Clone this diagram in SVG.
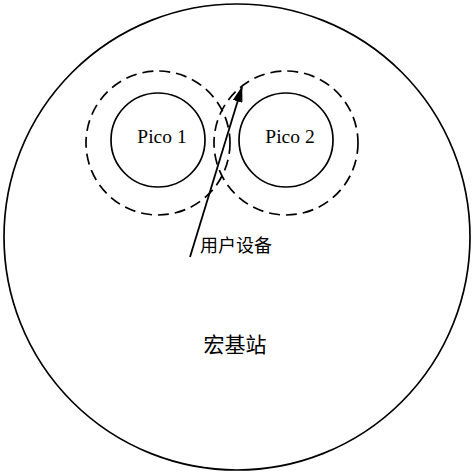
<svg xmlns="http://www.w3.org/2000/svg" width="474" height="474" viewBox="0 0 474 474">
<defs>
<style>
.solid{fill:none;stroke:#000;stroke-width:1.7}
.dash{fill:none;stroke:#000;stroke-width:1.7;stroke-dasharray:11 6}
.lat{font-family:"Liberation Serif","Times New Roman",serif;font-size:19.5px;fill:#000;text-anchor:middle}
.cjk{font-family:"Liberation Serif","Noto Sans CJK SC",serif;fill:#000;text-anchor:middle}
</style>
<marker id="arr" markerWidth="16" markerHeight="10" refX="15" refY="5" orient="auto" markerUnits="userSpaceOnUse" viewBox="0 0 16 10">
<path d="M0,0 L16,5 L0,10 Z" fill="#000"/>
</marker>
</defs>
<rect width="474" height="474" fill="#fff"/>
<g id="macro">
<circle class="solid" cx="237" cy="237" r="233"/>
<text class="cjk" x="235" y="352" font-size="21">宏基站</text>
</g>
<g id="pico1">
<circle class="dash" cx="158" cy="143" r="72"/>
<circle class="solid" cx="158" cy="140" r="47"/>
<text class="lat" x="162" y="143">Pico 1</text>
</g>
<g id="pico2">
<circle class="dash" cx="286" cy="143" r="72"/>
<circle class="solid" cx="286" cy="140" r="47"/>
<text class="lat" x="290" y="143">Pico 2</text>
</g>
<g id="ue">
<text class="cjk" x="236" y="252" font-size="18">用户设备</text>
</g>
<g id="connectors">
<line x1="190" y1="257" x2="242" y2="87" stroke="#000" stroke-width="1.8" marker-end="url(#arr)"/>
</g>
</svg>
